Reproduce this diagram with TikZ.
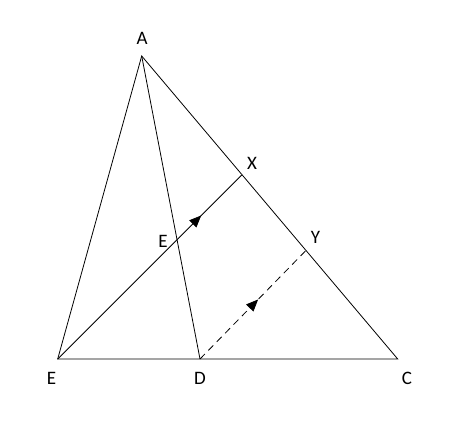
\documentclass[tikz,border=0pt]{standalone}
\usepackage{fontspec}
\setmainfont{Carlito}
\usetikzlibrary{arrows.meta,decorations.markings}
\tikzset{
  seg/.style={line width=0.8pt,black},
  dashseg/.style={seg,dash pattern=on 7pt off 5pt},
  midarrow/.style={postaction={decorate},decoration={markings,mark=at position #1 with {\arrow{Triangle[length=12pt,width=10pt]}}}},
  lbl/.style={font=\fontsize{19pt}{22pt}\selectfont,inner sep=0pt}
}
\begin{document}
\begin{tikzpicture}[x=1pt,y=-1pt]
\useasboundingbox (0,0) rectangle (475,441);
\coordinate (A) at (141.7,56);
\coordinate (B) at (57.7,359);
\coordinate (D) at (200,359);
\coordinate (C) at (397.7,359);
\coordinate (X) at (241.7,175);
\coordinate (Y) at (305.7,250.7);
\draw[seg] (A) -- (B) -- (C) -- cycle;
\draw[seg] (A) -- (D);
\draw[seg,midarrow=0.78] (B) -- (X);
\draw[dashseg,midarrow=0.55] (D) -- (Y);
\node[lbl] (lA) at (142,38) {A};
\node[lbl] (lB) at (51.5,378) {E};
\node[lbl] (lD) at (200,378) {D};
\node[lbl] (lC) at (407,378) {C};
\node[lbl] (lX) at (252,163) {X};
\node[lbl] (lY) at (315.5,237) {Y};
\node[lbl] (lE) at (163,241) {E};
\end{tikzpicture}
\end{document}
